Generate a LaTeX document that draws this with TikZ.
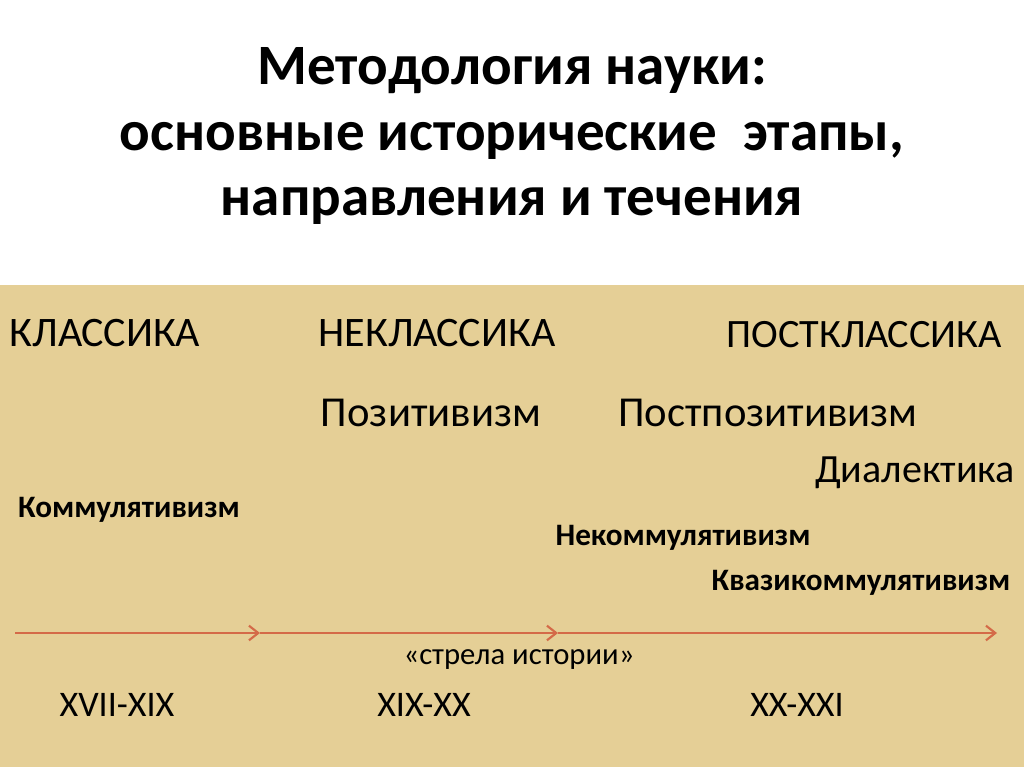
\documentclass[tikz,border=0pt]{standalone}
\usepackage{fontspec}
\setmainfont{Carlito}
\usetikzlibrary{arrows.meta}

\definecolor{papyrus}{RGB}{229,207,150}
\definecolor{arrowred}{RGB}{212,106,72}

\begin{document}
\begin{tikzpicture}[x=0.75pt,y=0.75pt,yscale=-1,xscale=1,
  stage/.style={inner sep=0pt, anchor=center, font=\fontsize{31.5}{36}\selectfont},
  trend/.style={inner sep=0pt, anchor=center, font=\fontsize{32}{38}\selectfont},
  cumul/.style={inner sep=0pt, anchor=center, font=\bfseries\fontsize{23.4}{28}\selectfont},
  epoch/.style={inner sep=0pt, anchor=center, font=\fontsize{27}{32}\selectfont},
  timeline/.style={draw=arrowred, line width=1.6pt, -{Straight Barb[length=7pt,width=11pt,line width=1.6pt]}}]
\useasboundingbox (0,0) rectangle (1024,767);

% Background
\fill [white] (0,0) rectangle (1024,285);
\fill [papyrus] (0,285) rectangle (1024,767);

% Title
\node (title) [align=center, font=\bfseries\fontsize{42.8}{48.8}\selectfont] at (512,136)
  {Методология науки:\\основные исторические\ \ этапы,\\направления и течения};

% Text Node
\node (klass)  [stage] at (105,333) {КЛАССИКА};
\node (neklass) [stage] at (437,333) {НЕКЛАССИКА};
\node (postklass) [stage, font=\fontsize{30.2}{35}\selectfont] at (864,335) {ПОСТКЛАССИКА};
% Text Node
\node (pozit)  [trend] at (431,413) {Позитивизм};
\node (postpozit) [trend] at (768,413) {Постпозитивизм};
\node (dialekt) [trend, font=\fontsize{30}{36}\selectfont] at (915,473) {Диалектика};
% Text Node
\node (kumul)  [cumul] at (129,510) {Коммулятивизм};
\node (nekumul) [cumul] at (683,538) {Некоммулятивизм};
\node (kvazi)  [cumul] at (861,583) {Квазикоммулятивизм};

% Connection
\coordinate (t0) at (15,633);
\coordinate (t1) at (260,633);
\coordinate (t2) at (558,633);
\coordinate (t3) at (997,633);
\draw [timeline] (t0) -- (t1);
\draw [timeline] (t1) -- (t2);
\draw [timeline] (t2) -- (t3);
\node (strela) [inner sep=0pt, font=\fontsize{23}{27}\selectfont] at (519,660) {«стрела истории»};

% Text Node
\node (e1) [epoch] at (117,705) {XVII-XIX};
\node (e2) [epoch] at (424,705) {XIX-XX};
\node (e3) [epoch] at (797,705) {XX-XXI};

\end{tikzpicture}
\end{document}
